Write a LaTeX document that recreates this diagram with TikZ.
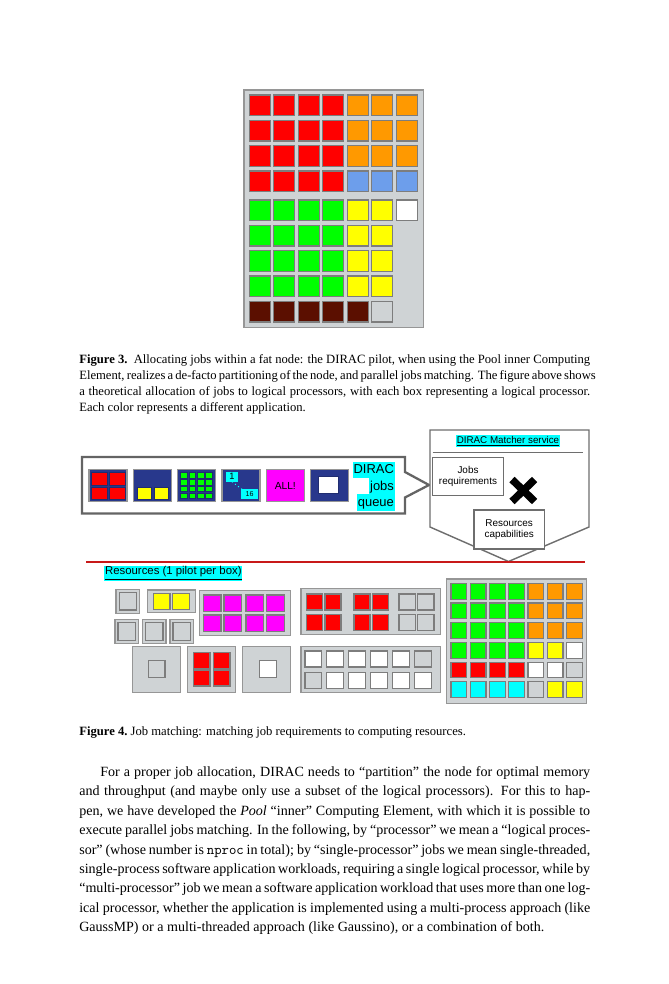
\documentclass[tikz,border=0pt]{standalone}
\usepackage{fontspec}
\setmainfont{Liberation Serif}
\newfontfamily\arialf{Liberation Sans}
\definecolor{bgGray}{RGB}{207,211,213}
\definecolor{boxEdge}{RGB}{150,150,150}
\definecolor{sqEdge}{RGB}{125,125,125}
\definecolor{cR}{RGB}{255,0,0}
\definecolor{cO}{RGB}{255,153,0}
\definecolor{cB}{RGB}{109,158,235}
\definecolor{cG}{RGB}{0,255,0}
\definecolor{cY}{RGB}{255,255,0}
\definecolor{cW}{RGB}{255,255,255}
\definecolor{cBr}{RGB}{91,15,0}
\definecolor{cGl}{RGB}{207,211,213}
\definecolor{cM}{RGB}{255,0,255}
\definecolor{cC}{RGB}{0,255,255}
\definecolor{navy}{RGB}{40,56,140}
\definecolor{qEdge}{RGB}{100,100,100}
\definecolor{pEdge}{RGB}{110,110,110}
\definecolor{redline}{RGB}{200,25,25}
\newcommand\fl[1]{\hbox to \hsize{#1}}
\begin{document}
\begin{tikzpicture}[x=0.704pt,y=-0.704pt,
  sq3/.style={draw=sqEdge,line width=0.9pt},
  rbox/.style={draw=boxEdge,fill=bgGray,line width=0.9pt},
  rsq/.style={draw=sqEdge,line width=0.8pt},
  icon/.style={draw=boxEdge,fill=navy,line width=0.8pt},
  inq/.style={draw=navy!80!black,line width=0.3pt},
  mbox/.style={draw=pEdge,fill=white,line width=0.8pt,inner sep=0pt,align=center,
     font=\arialf\fontsize{7}{8.1}\selectfont},
  hl/.style={fill=cC,text=black,inner xsep=0.6pt,inner ysep=0.4pt},
  txt/.style={inner sep=0pt,anchor=base west}]
\useasboundingbox (0,0) rectangle (669,984);

% ---------------- Figure 3 ----------------
\draw[draw=boxEdge,fill=bgGray,line width=1pt] (244,90) rectangle (423.5,327.5);
\foreach \c [count=\i from 0] in {cR,cR,cR,cR,cO,cO,cO} {\draw[sq3,fill=\c] ({249.3+24.5*\i},95) rectangle ++(21,20.7);}
\foreach \c [count=\i from 0] in {cR,cR,cR,cR,cO,cO,cO} {\draw[sq3,fill=\c] ({249.3+24.5*\i},120.3) rectangle ++(21,20.7);}
\foreach \c [count=\i from 0] in {cR,cR,cR,cR,cO,cO,cO} {\draw[sq3,fill=\c] ({249.3+24.5*\i},145.7) rectangle ++(21,20.7);}
\foreach \c [count=\i from 0] in {cR,cR,cR,cR,cB,cB,cB} {\draw[sq3,fill=\c] ({249.3+24.5*\i},171) rectangle ++(21,20.7);}
\foreach \c [count=\i from 0] in {cG,cG,cG,cG,cY,cY,cW} {\draw[sq3,fill=\c] ({249.3+24.5*\i},200) rectangle ++(21,20.7);}
\foreach \c [count=\i from 0] in {cG,cG,cG,cG,cY,cY} {\draw[sq3,fill=\c] ({249.3+24.5*\i},225.3) rectangle ++(21,20.7);}
\foreach \c [count=\i from 0] in {cG,cG,cG,cG,cY,cY} {\draw[sq3,fill=\c] ({249.3+24.5*\i},250.7) rectangle ++(21,20.7);}
\foreach \c [count=\i from 0] in {cG,cG,cG,cG,cY,cY} {\draw[sq3,fill=\c] ({249.3+24.5*\i},276) rectangle ++(21,20.7);}
\foreach \c [count=\i from 0] in {cBr,cBr,cBr,cBr,cBr,cGl} {\draw[sq3,fill=\c] ({249.3+24.5*\i},301.3) rectangle ++(21,20.7);}

\node[txt] (cap3) at (79,363.5) {\vtop{\hsize=359.7pt\fontsize{8.9}{11.33}\selectfont
\fl{\textbf{Figure 3.}\ \ Allocating jobs within a fat node: the DIRAC pilot, when using the Pool inner Computing}
\fl{Element, realizes a de-facto partitioning of the node, and parallel jobs matching. The figure above shows}
\fl{a theoretical allocation of jobs to logical processors, with each box representing a logical processor.}
\hbox{Each color represents a different application.}}};

% ---------------- Figure 4: queue ----------------
\draw[draw=qEdge,fill=white,line width=1.6pt,line join=miter]
  (82,457) -- (405,457) -- (405,472) -- (429,485) -- (405,497.5) -- (405,513.5) -- (82,513.5) -- cycle;

% icon 1: four red
\draw[icon] (89,469.5) rectangle ++(38,32);
\foreach \dx in {2.3,20.3} \foreach \dy in {2.8,17.5} {\draw[inq,fill=cR] ({89+\dx},{469.5+\dy}) rectangle ++(15.5,12.5);}
% icon 2: two yellow
\draw[icon] (133.3,469.5) rectangle ++(38,32);
\foreach \dx in {4,21} {\draw[inq,fill=cY] ({133.3+\dx},487) rectangle ++(14,12.5);}
% icon 3: green grid
\draw[icon] (177.6,469.5) rectangle ++(38,32);
\foreach \j in {0,...,3} \foreach \k in {0,...,3} {\draw[inq,fill=cG] ({177.6+3+8.3*\j},{469.5+3.2+6.85*\k}) rectangle ++(6.6,5.2);}
% icon 4: 1 .. 16
\draw[icon] (222,469.5) rectangle ++(38,32);
\fill[cC] (225.7,471.7) rectangle (238.3,481.7);
\fill[cC] (240.7,489.3) rectangle (258.3,499);
\draw[cC,dotted,line width=0.7pt] (232,481.7) -- (242,489.3);
\node[inner sep=0pt,font=\arialf\fontsize{6.5}{7}\selectfont] (one) at (232,476.8) {1};
\node[inner sep=0pt,font=\arialf\fontsize{5}{6}\selectfont] (sixteen) at (249.5,494.3) {16};
% icon 5: ALL!
\draw[draw=boxEdge,fill=cM,line width=0.8pt] (266.3,469.5) rectangle ++(38,32);
\node[inner sep=0pt,font=\arialf\fontsize{7.2}{8}\selectfont] (all) at (285.3,485.8) {ALL!};
% icon 6: single white
\draw[icon] (310.6,469.5) rectangle ++(38,32);
\draw[inq,fill=white] (318.6,476.7) rectangle (338.6,493.3);

% queue label
\begin{scope}[every node/.style={hl,anchor=base east,inner ysep=0pt,text height=8.4pt,text depth=3.1pt,font=\arialf\fontsize{9.1}{11.5}\selectfont}]
\node (q1) at (395,473.7) {DIRAC};
\node (q2) at (395,490) {jobs};
\node (q3) at (395,506.3) {queue};
\end{scope}

% ---------------- Matcher ----------------
\draw[draw=pEdge,fill=white,line width=1pt,line join=miter]
  (430,430) -- (589,430) -- (589,527) -- (508.5,561.5) -- (430,527) -- cycle;
\node[hl,font=\arialf\fontsize{6.9}{8}\selectfont] (mtitle) at (508,441) {\underline{DIRAC Matcher service}};
\draw[pEdge,line width=0.6pt] (432.7,452.3) -- (583.3,452.3);
\node[mbox,minimum width=49.7pt,minimum height=27pt] (jobs) at (468,476.5) {Jobs\\requirements};
\node[mbox,minimum width=49.5pt,minimum height=27.5pt] (rescap) at (509.2,529.5) {Resources\\capabilities};
\draw[black,line width=5.3pt] (512,479.5) -- (534.6,501.5) (512,501.5) -- (534.6,479.5);

% red separator
\draw[redline,line width=1.1pt] (86,562) -- (585,562);
\node[hl,anchor=west,font=\arialf\fontsize{8}{9}\selectfont] (reslbl) at (104,573.3) {\underline{Resources (1 pilot per box)}};

% ---------------- resources ----------------
% A
\draw[rbox] (116,589.3) rectangle (139.3,613.3);
\draw[rsq,fill=cGl] (119.3,592.3) rectangle (136.7,610);
% B
\draw[rbox] (147.7,590) rectangle (195.7,612.3);
\draw[rsq,fill=cY] (153.3,593.3) rectangle (170,609.3);
\draw[rsq,fill=cY] (172.7,593.3) rectangle (189.3,609.3);
% C
\draw[rbox] (199.3,590.7) rectangle (290.7,635.3);
\foreach \xx in {203.3,224,246,266.7} \foreach \yy in {595,615} {\draw[rsq,fill=cM] (\xx,\yy) rectangle ++(17.7,16.7);}
% D E F
\foreach \xx in {115,142.3,170} {\draw[rbox] (\xx,619.3) rectangle ++(23.7,24);
  \draw[rsq,fill=cGl] ({\xx+3},622.3) rectangle ++(17.7,18);}
% G
\draw[rbox] (132.7,646.7) rectangle (180.7,692.3);
\draw[rsq,fill=cGl] (148.3,660.7) rectangle (165,677.3);
% H
\draw[rbox] (187.7,646.7) rectangle (235.7,692.3);
\foreach \xx in {193.3,213.3} \foreach \yy in {652.7,670} {\draw[rsq,fill=cR] (\xx,\yy) rectangle ++(16.7,16);}
% I
\draw[rbox] (242.7,646.7) rectangle (290.7,692.3);
\draw[rsq,fill=white] (259.3,660.7) rectangle (276.7,677.3);
% J
\draw[rbox] (301,588.3) rectangle (440.7,634.3);
\foreach \xx in {306.7,325,354,372.3} \foreach \yy in {594,614.3} {\draw[rsq,fill=cR] (\xx,\yy) rectangle ++(16,16);}
\foreach \xx in {399,417.7} \foreach \yy in {594,614.3} {\draw[rsq,fill=cGl] (\xx,\yy) rectangle ++(16.3,16);}
% K
\draw[rbox] (301,646.7) rectangle (440.7,692.3);
\foreach \c [count=\i from 0] in {cW,cW,cW,cW,cW,cGl} {\draw[rsq,fill=\c] ({305+21.9*\i},651) rectangle ++(16.8,16);}
\foreach \c [count=\i from 0] in {cGl,cW,cW,cW,cW,cW} {\draw[rsq,fill=\c] ({305+21.9*\i},672.3) rectangle ++(16.8,16);}
% L
\draw[rbox] (446.7,579) rectangle (586.7,703.3);
\foreach \c [count=\i from 0] in {cG,cG,cG,cG,cO,cO,cO} {\draw[rsq,fill=\c] ({451+19.25*\i},583.3) rectangle ++(15.7,15.8);}
\foreach \c [count=\i from 0] in {cG,cG,cG,cG,cO,cO,cO} {\draw[rsq,fill=\c] ({451+19.25*\i},603) rectangle ++(15.7,15.8);}
\foreach \c [count=\i from 0] in {cG,cG,cG,cG,cO,cO,cO} {\draw[rsq,fill=\c] ({451+19.25*\i},622.7) rectangle ++(15.7,15.8);}
\foreach \c [count=\i from 0] in {cG,cG,cG,cG,cY,cY,cW} {\draw[rsq,fill=\c] ({451+19.25*\i},642.4) rectangle ++(15.7,15.8);}
\foreach \c [count=\i from 0] in {cR,cR,cR,cR,cW,cW,cGl} {\draw[rsq,fill=\c] ({451+19.25*\i},662.1) rectangle ++(15.7,15.8);}
\foreach \c [count=\i from 0] in {cC,cC,cC,cC,cGl,cY,cY} {\draw[rsq,fill=\c] ({451+19.25*\i},681.8) rectangle ++(15.7,15.8);}

\node[txt] (cap4) at (79,735) {\fontsize{8.9}{11.33}\selectfont\textbf{Figure 4.}\ Job matching: matching job requirements to computing resources.};

% ---------------- body text ----------------
\node[txt] (body) at (79,776.5) {\vtop{\hsize=359.7pt\fontsize{9.9}{13.66}\selectfont
\fl{\hskip 14.8pt For a proper job allocation, DIRAC needs to “partition” the node for optimal memory}
\fl{and throughput (and maybe only use a subset of the logical processors). For this to hap-}
\fl{pen, we have developed the \textit{Pool} “inner” Computing Element, with which it is possible to}
\fl{execute parallel jobs matching. In the following, by “processor” we mean a “logical proces-}
\fl{sor” (whose number is \texttt{nproc} in total); by “single-processor” jobs we mean single-threaded,}
\fl{single-process software application workloads, requiring a single logical processor, while by}
\fl{“multi-processor” job we mean a software application workload that uses more than one log-}
\fl{ical processor, whether the application is implemented using a multi-process approach (like}
\hbox{GaussMP) or a multi-threaded approach (like Gaussino), or a combination of both.}}};
\end{tikzpicture}
\end{document}
